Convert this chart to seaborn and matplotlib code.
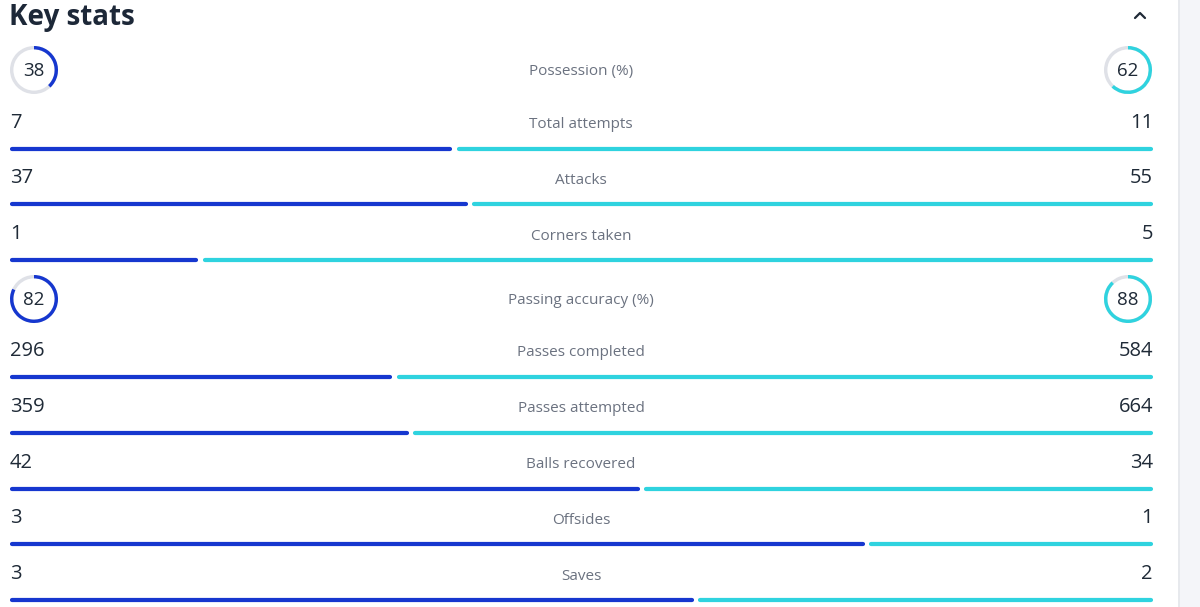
import matplotlib
matplotlib.use("Agg")
import matplotlib.pyplot as plt
from matplotlib.patches import Wedge, Rectangle
import seaborn as sns

# Key stats data (home = left, away = right)
stat_labels = ["Possession (%)", "Total attempts", "Attacks", "Corners taken",
               "Passing accuracy (%)", "Passes completed", "Passes attempted",
               "Balls recovered", "Offsides", "Saves"]
home_values = [38, 7, 37, 1, 82, 296, 359, 42, 3, 3]
away_values = [62, 11, 55, 5, 88, 584, 664, 34, 1, 2]
stat_kinds = ["ring", "bar", "bar", "bar", "ring", "bar", "bar", "bar", "bar", "bar"]

HOME_COLOR = "#1637cf"
AWAY_COLOR = "#2fd3df"
TRACK_COLOR = "#dfe1e7"
TEXT_DARK = "#1f2a37"
TEXT_GREY = "#6b7280"

sns.set_theme(style="white")
plt.rcParams["font.family"] = ["Open Sans", "DejaVu Sans"]

fig = plt.figure(figsize=(12, 6.07), dpi=100)
ax = fig.add_axes([0, 0, 1, 1])
ax.set_xlim(0, 1200)
ax.set_ylim(607, 0)
ax.set_aspect("equal")
ax.axis("off")

# side panel on the right
ax.add_patch(Rectangle((1180, 0), 20, 607, color="#f4f5f9", zorder=0))
ax.plot([1179, 1179], [0, 607], color="#e3e5ea", lw=1.2, zorder=1)

ax.text(9, 17, "Key stats", fontsize=20, fontweight="bold", color="#1d2838",
        va="center", ha="left")
# collapse chevron
ax.plot([1135, 1140, 1145], [18, 13, 18], color=TEXT_DARK, lw=1.6,
        solid_capstyle="round", solid_joinstyle="round")

x0, x1 = 10, 1153
width = x1 - x0
gap = 4
lw_px = 4.2
lw_pt = lw_px * 72 / 100

row_y = [70, 122, 177, 233, 299, 350, 406, 462, 517, 573]


def ring(cx, cy, pct, color):
    r = 24
    ax.add_patch(Wedge((cx, cy), r, 0, 360, width=3.4, color=TRACK_COLOR, lw=0))
    ax.add_patch(Wedge((cx, cy), r, -90, -90 + 360 * pct / 100, width=3.4,
                       color=color, lw=0))


for label, h, a, kind, y in zip(stat_labels, home_values, away_values, stat_kinds, row_y):
    if kind == "ring":
        ring(34, y, h, HOME_COLOR)
        ring(1128, y, a, AWAY_COLOR)
        ax.text(34, y + 1, str(h), fontsize=13.5, color=TEXT_DARK,
                ha="center", va="center")
        ax.text(1128, y + 1, str(a), fontsize=13.5, color=TEXT_DARK,
                ha="center", va="center")
        ax.text(581, y + 2, label, fontsize=11, color=TEXT_GREY, ha="center", va="center")
    else:
        ax.text(x0, y + 1, str(h), fontsize=14.5, color=TEXT_DARK, ha="left", va="center")
        ax.text(x1, y + 1, str(a), fontsize=14.5, color=TEXT_DARK, ha="right", va="center")
        ax.text(581, y + 3, label, fontsize=11, color=TEXT_GREY, ha="center", va="center")
        share = h / (h + a)
        split = x0 + share * width
        by = y + 27
        ax.plot([x0 + lw_px / 2, split - gap / 2 - lw_px / 2], [by, by],
                color=HOME_COLOR, lw=lw_pt, solid_capstyle="round")
        ax.plot([split + gap / 2 + lw_px / 2, x1 - lw_px / 2], [by, by],
                color=AWAY_COLOR, lw=lw_pt, solid_capstyle="round")

fig.savefig("out.png", dpi=100, facecolor="white")
